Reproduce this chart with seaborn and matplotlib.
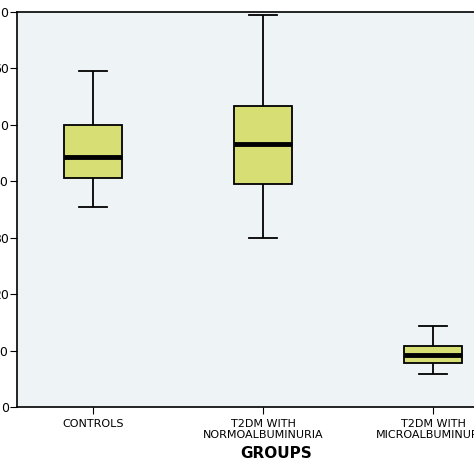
import pandas as pd
import matplotlib
matplotlib.use("Agg")
import matplotlib.pyplot as plt
import seaborn as sns

groups = ["CONTROLS", "T2DM WITH\nNORMOALBUMINURIA", "T2DM WITH\nMICROALBUMINURIA"]
# min, Q1, median, Q3, max
controls = [35.5, 40.6, 44.3, 50.0, 59.6]
normo = [30.0, 39.5, 46.6, 53.4, 69.5]
micro = [5.9, 7.8, 9.2, 10.8, 14.4]
yticks = [0, 10, 20, 30, 40, 50, 60, 70]

df = pd.DataFrame({
    "group": [g for g, v in zip(groups, [controls, normo, micro]) for _ in v],
    "value": controls + normo + micro,
})

fig = plt.figure(figsize=(4.74, 4.74), dpi=100)
ax = fig.add_axes([17 / 474, 1 - 407 / 474, 3.047 * 170 / 474, (407 - 12) / 474])
ax.set_facecolor("#eef3f6")
sns.boxplot(data=df, x="group", y="value", ax=ax, whis=(0, 100), width=0.34,
            color="#d6de74", saturation=1, linewidth=1.3,
            boxprops=dict(edgecolor="black"),
            whiskerprops=dict(color="black"), capprops=dict(color="black"),
            medianprops=dict(color="black", linewidth=3.5))
for line in ax.lines:
    pass
ax.set_xlim(-0.447, 2.6)
ax.set_ylim(0, 70)
ax.set_yticks(yticks)
ax.set_yticklabels([str(t) for t in yticks], fontsize=9)
ax.tick_params(axis="y", length=5, pad=1)
ax.tick_params(axis="x", length=5, labelsize=8)
ax.set_xlabel("GROUPS", fontsize=11, fontweight="bold", labelpad=4)
ax.set_ylabel("")
for s in ["top", "right", "left", "bottom"]:
    ax.spines[s].set_color("black")
    ax.spines[s].set_linewidth(1.2)
fig.savefig("out.png", dpi=100)
